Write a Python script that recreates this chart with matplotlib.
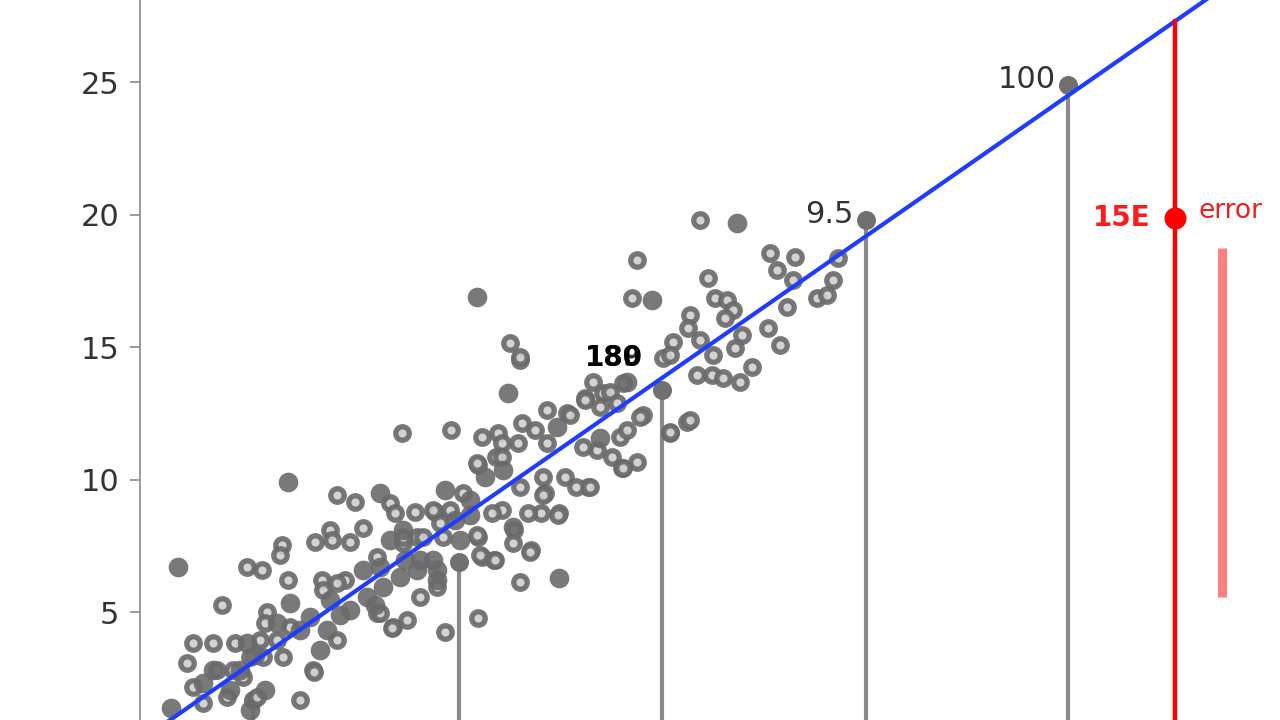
import matplotlib
matplotlib.use("Agg")
import matplotlib.pyplot as plt

# scattered observations, ring style (x, y in data units)
ring_x = [19.7, 21.5, 25.0, 25.5, 27.5, 29.5, 32.3, 10.7, 12.2, 14.2, 14.0, 14.8, 17.5, 19.0, 19.2,
          21.0, 22.3, 8.2, 5.3, 7.3, 9.5, 4.7, 12.7, 12.5, 18.2, 20.5, 17.3, 16.0, 5.3, 7.7,
          9.3, 11.0, 12.0, 13.7, 15.0, 18.3, 19.7, 23.7, 26.3, 27.7, 30.0, 31.0, 23.7, 25.3, 26.7,
          30.5, 28.0, 19.7, 14.3, 12.3, 10.3, 8.7, 11.7, 6.3, 26.2, 31.1, 33.8, 38.0, 40.7, 42.7,
          44.8, 38.0, 33.8, 25.2, 17.4, 35.6, 34.2, 35.8, 38.2, 39.5, 36.2, 37.8, 33.8, 34.2, 35.4,
          39.1, 40.5, 42.5, 43.6, 41.9, 40.1, 37.4, 36.2, 48.0, 47.2, 48.2, 43.0, 44.5, 46.3, 48.3,
          54.7, 53.0, 50.3, 49.7, 48.3, 45.7, 44.3, 40.7, 36.2, 33.7, 38.0, 40.3, 45.0, 41.8, 40.3,
          38.8, 39.0, 37.3, 35.5, 34.0, 33.7, 35.2, 29.3, 28.3, 26.3, 30.3, 29.7, 24.0, 56.0, 49.7,
          49.2, 56.8, 57.5, 58.7, 59.3, 63.0, 63.7, 65.5, 65.3, 64.7, 67.7, 69.3, 69.8, 68.7, 55.0,
          54.8, 56.0, 58.5, 60.2, 59.5, 62.8, 64.0, 57.3, 55.7, 57.2, 58.3, 60.0, 61.2, 53.3, 52.3,
          53.0, 55.0, 53.0, 45.3, 47.0, 44.5, 50.0, 48.7, 47.7, 46.0, 37.0, 38.0]
ring_y = [9.43, 9.17, 9.13, 8.75, 8.79, 8.79, 9.51, 6.72, 6.60, 7.55, 7.17, 6.23, 7.66, 8.11, 7.74,
          7.66, 8.19, 5.28, 3.85, 3.85, 3.85, 3.09, 5.02, 4.60, 6.23, 6.23, 2.83, 1.70, 2.19, 2.83,
          2.83, 3.32, 3.96, 3.96, 4.45, 5.85, 6.11, 7.09, 7.62, 7.85, 8.38, 8.87, 4.98, 4.45, 4.72,
          4.26, 5.58, 3.96, 3.32, 3.32, 2.57, 1.81, 1.81, 1.58, 11.77, 11.89, 10.57, 14.53, 12.64, 12.53,
          9.74, 6.15, 4.79, 4.42, 2.75, 10.87, 11.62, 11.77, 12.15, 11.89, 11.40, 11.40, 7.85, 7.09, 6.98,
          7.36, 9.51, 10.11, 9.74, 8.75, 8.75, 8.11, 8.87, 11.62, 10.87, 10.45, 12.45, 13.09, 13.28, 13.66,
          12.19, 11.77, 12.45, 10.68, 10.45, 11.13, 11.25, 11.40, 10.87, 10.64, 9.74, 10.11, 9.74, 8.68, 9.43,
          8.75, 7.28, 7.62, 6.98, 7.17, 7.92, 8.75, 8.87, 7.85, 7.85, 7.85, 5.96, 4.98, 19.81, 18.30,
          16.87, 17.62, 16.87, 16.79, 16.42, 18.57, 17.92, 18.42, 17.55, 16.53, 16.87, 17.55, 18.38, 16.98, 16.23,
          15.74, 15.28, 16.11, 15.47, 14.98, 15.74, 15.09, 14.72, 13.96, 13.96, 13.85, 13.70, 14.26, 15.21, 14.60,
          14.72, 12.26, 11.81, 13.70, 13.32, 13.02, 12.38, 11.89, 12.91, 12.75, 15.17, 14.64]

# filled observations (dense band and a few outliers)
solid_x = [14.8, 24.0, 30.5, 3.8, 3.1, 36.8, 41.9, 41.7, 46.0, 34.5, 36.3, 37.3, 33.0, 26.0, 28.0,
           29.7, 59.7, 51.2, 48.7, 33.7, 17.0, 18.7, 21.0, 22.7, 24.3, 27.7, 29.3, 29.7, 22.3, 24.0,
           25.0, 26.3, 15.0, 13.7, 10.7, 10.0, 7.3, 6.3, 19.0, 16.0, 20.0, 31.5, 33.0, 32.0, 26.5,
           23.5, 18.0, 11.5, 9.0, 12.5, 11.0]
solid_y = [9.92, 9.51, 9.62, 6.72, 1.40, 13.28, 6.30, 12.00, 11.58, 10.11, 10.38, 8.23, 9.25, 6.34, 6.98,
           6.60, 19.70, 16.79, 13.70, 16.91, 4.83, 4.34, 5.09, 5.58, 5.96, 6.60, 6.98, 6.23, 6.60, 6.72,
           7.74, 8.11, 5.36, 4.60, 3.85, 2.83, 2.83, 2.34, 5.47, 4.34, 4.91, 8.49, 8.68, 7.74, 6.98,
           5.28, 3.58, 3.40, 2.08, 2.08, 1.32]

# fitted line
fit_intercept = 0.15
fit_slope = 0.2624

# highlighted stems
stem_x = [11.3, 31.9, 52.2, 72.6, 92.8]
stem_y = [1.7, 6.9, 13.4, 19.8, 24.9]
stem_labels = ["", "", "", "9.5", "100"]

# error marker
error_x = 103.5
error_top = 27.4
error_point = 19.9
error_label = "15E"
band_x = 108.2
band_low = 5.6
band_high = 18.75

cluster_label_x = 47.4
cluster_label_y = 14.6

fig = plt.figure(figsize=(12.8, 7.2), dpi=100)
ax = fig.add_axes([140 / 1280, 0, 1 - 140 / 1280, 1])
ax.set_xlim(0, 114)
ax.set_ylim(0.94, 28.11)

for s in ['top', 'right', 'bottom']:
    ax.spines[s].set_visible(False)
ax.spines['left'].set_color('#888888')
ax.spines['left'].set_linewidth(1.2)
ax.set_xticks([])
ax.set_yticks([5, 10, 15, 20, 25])
ax.tick_params(axis='y', labelsize=22, colors='#888888', labelcolor='#333333', length=7, width=1.2, pad=8)

ybottom = ax.get_ylim()[0]

# stems
ax.vlines(stem_x, ybottom - 1, stem_y, color='#8a8a8a', linewidth=3, zorder=2)
ax.scatter(stem_x, stem_y, s=160, color='#707070', zorder=3)
for xv, yv, lab in zip(stem_x, stem_y, stem_labels):
    if lab:
        ax.text(xv - 1.2, yv + 0.2, lab, ha='right', va='center', fontsize=22, color='#333333', zorder=5)

# scatter
ax.scatter(ring_x, ring_y, s=95, facecolor='#cfcfcf', edgecolor='#696969', linewidth=3.8, alpha=0.9, zorder=3)
ax.scatter(solid_x, solid_y, s=200, color='#6a6a6a', alpha=0.9, zorder=3, linewidth=0)

# garbled cluster label
ax.text(cluster_label_x, cluster_label_y, "180", ha='center', va='center', fontsize=20,
        fontweight='bold', color='black', zorder=6)
ax.text(cluster_label_x, cluster_label_y, "189", ha='center', va='center', fontsize=20,
        fontweight='bold', color='black', alpha=0.8, zorder=6)

# regression line
line_x = [0, 114]
line_y = [fit_intercept + fit_slope * v for v in line_x]
ax.plot(line_x, line_y, color='#1f3cff', linewidth=3, zorder=4)

# error stem
ax.vlines(error_x, ybottom - 1, error_top, color='#ff0000', linewidth=3.2, zorder=4)
ax.scatter([error_x], [error_point], s=220, color='#ff0000', zorder=5)
ax.text(error_x - 2.4, error_point, error_label, ha='right', va='center', fontsize=20,
        fontweight='bold', color='#ff1a1a', zorder=6)
ax.text(error_x + 2.4, error_point + 0.25, "error", ha='left', va='center', fontsize=19,
        color='#e82020', zorder=6)
ax.vlines(band_x, band_low, band_high, color='#ff7f7f', linewidth=6.5, zorder=4)

fig.savefig("out.png", dpi=100)
